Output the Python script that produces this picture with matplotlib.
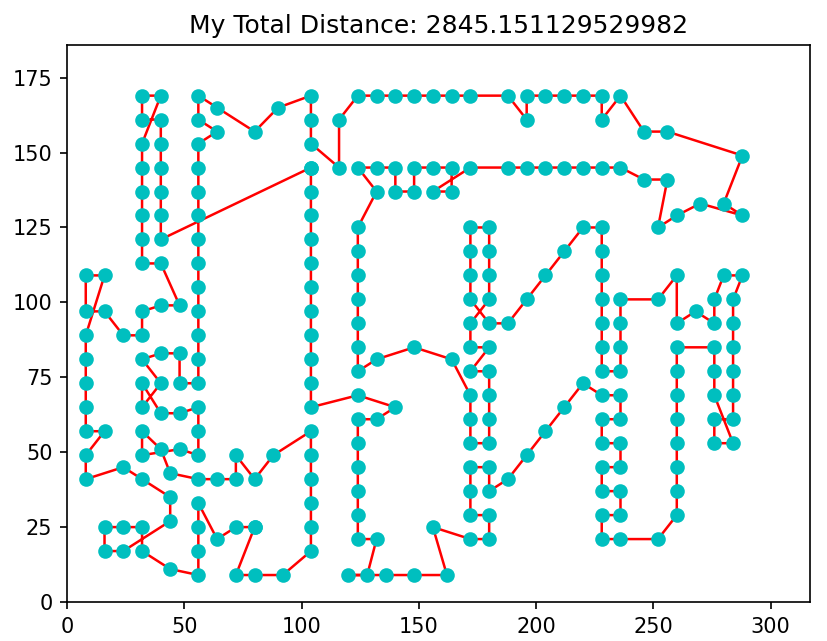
import matplotlib
matplotlib.use("Agg")
import matplotlib.pyplot as plt

title_text = "My Total Distance: 2845.151129529982"

# tour order (x, y) of cities
tour = [
    (104,145),(104,137),(104,129),(104,121),(104,113),(104,105),(104,97),(104,89),(104,81),(104,73),(104,65),
    (124,69),(140,65),(132,61),
    (124,61),(124,53),(124,45),(124,37),(124,29),(124,21),
    (132,21),(128,9),(120,9),(136,9),(148,9),(162,9),(156,25),
    (172,21),(180,21),(180,29),(172,29),(172,37),(172,45),(180,45),(180,37),
    (188,41),(196,49),(204,57),(212,65),(220,73),
    (228,69),(236,69),(236,61),(228,61),(228,53),(236,53),(236,45),(228,45),(228,37),(236,37),(236,29),(228,29),(228,21),(236,21),
    (252,21),
    (260,29),(260,37),(260,45),(260,53),(260,61),(260,69),(260,77),(260,85),
    (276,85),(276,77),(276,69),(284,53),(276,53),(276,61),
    (284,61),(284,69),(284,77),(284,85),(284,93),(284,101),
    (288,109),(280,109),(276,101),(276,93),(268,97),(260,93),(260,109),(252,101),
    (236,101),(236,93),(236,85),(236,77),
    (228,77),(228,85),(228,93),(228,101),(228,109),(228,117),(228,125),
    (220,125),(212,117),(204,109),(196,101),(188,93),
    (180,93),(172,101),(172,109),(172,117),(172,125),(180,125),(180,117),(180,109),(180,101),(172,93),
    (172,85),(180,85),(172,77),(180,77),(180,69),(180,61),(180,53),(172,53),(172,61),(172,69),
    (164,81),(148,85),(132,81),
    (124,77),(124,85),(124,93),(124,101),(124,109),(124,117),(124,125),
    (132,137),(124,145),(132,145),(140,145),(140,137),(148,137),(148,145),(156,145),(164,145),(164,137),(156,137),
    (172,145),(188,145),(196,145),(204,145),(212,145),(220,145),(228,145),(236,145),
    (246,141),(256,141),(252,125),(260,129),(270,133),(288,129),(280,133),(288,149),(256,157),(246,157),
    (236,169),(228,161),(228,169),(220,169),(212,169),(204,169),(196,169),(196,161),(188,169),
    (172,169),(164,169),(156,169),(148,169),(140,169),(132,169),(124,169),
    (116,161),(116,145),(104,153),(104,161),(104,169),(90,165),(80,157),(64,165),(56,169),(56,161),(64,157),
    (56,153),(56,145),(56,137),(56,129),(56,121),(56,113),(56,105),(56,97),(56,89),(56,81),(56,73),
    (48,73),(48,83),(40,83),(32,81),(40,73),(32,65),(32,73),(40,63),(48,63),(56,65),(56,57),(56,49),
    (48,51),(32,49),(32,57),(40,51),(44,43),(56,41),(64,41),(72,41),(72,49),(80,41),(88,49),
    (104,57),(104,49),(104,41),(104,33),(104,25),(104,17),
    (92,9),(80,9),(72,9),(80,25),(80,25),(72,25),(64,21),
    (56,33),(56,25),(56,17),(56,9),(44,11),(32,17),(32,25),(24,25),(16,25),(16,17),(24,17),(44,27),(44,35),(32,41),(24,45),
    (8,41),(8,49),(16,57),(8,57),(8,65),(8,73),(8,81),(8,89),(16,109),(8,109),(8,97),(16,97),(24,89),(32,89),(32,97),
    (40,99),(48,99),(40,113),(32,113),
    (32,121),(32,129),(32,137),(32,145),(32,153),(40,169),(32,169),(32,161),
    (40,161),(40,153),(40,145),(40,137),(40,129),(40,121),
]
tour_x = [p[0] for p in tour] + [tour[0][0]]
tour_y = [p[1] for p in tour] + [tour[0][1]]

W, H, DPI = 827, 641, 150
fig = plt.figure(figsize=(W / DPI, H / DPI), dpi=DPI)
ax = fig.add_axes([67 / W, (H - 602) / H, (810 - 67) / W, (602 - 45) / H])

ax.plot(tour_x, tour_y, "r-", linewidth=1.2, zorder=1)
ax.plot(tour_x, tour_y, "co", markersize=6, zorder=2)
ax.set_xlim(0, max(tour_x) * 1.1)
ax.set_ylim(0, max(tour_y) * 1.1)
ax.set_title(title_text, fontsize=12)

fig.savefig("out.png", dpi=DPI)
